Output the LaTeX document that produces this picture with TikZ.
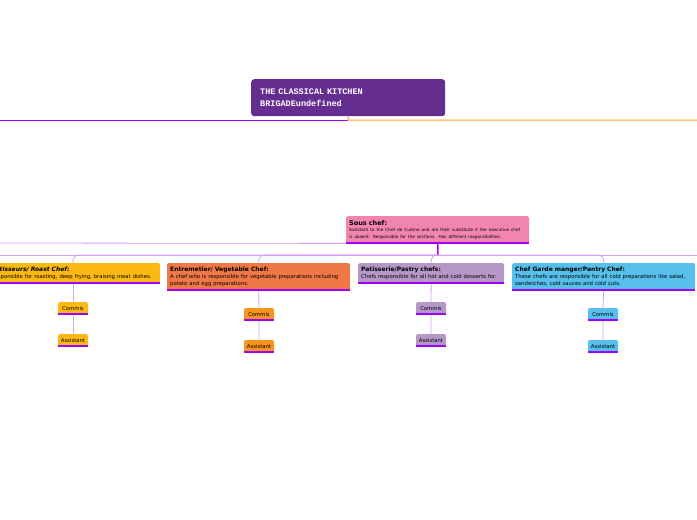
\documentclass[tikz,border=0pt]{standalone}
\usepackage{fontspec}
\setmainfont{DejaVu Sans}
\newfontfamily\monob{Liberation Mono}
\definecolor{ttl}{HTML}{662D91}
\definecolor{ul}{HTML}{A100FF}
\definecolor{lc}{HTML}{D6A0F5}
\definecolor{orl}{HTML}{F9A51A}
\definecolor{pinkc}{HTML}{F185B0}
\definecolor{yel}{HTML}{FDB913}
\definecolor{ora}{HTML}{F07846}
\definecolor{lil}{HTML}{B597C8}
\definecolor{sky}{HTML}{56BFEB}
\definecolor{orb}{HTML}{F7941D}
\begin{document}
\begin{tikzpicture}[x=1pt,y=-1pt,
 box/.style={anchor=north west,rounded corners=1.5pt,inner xsep=3pt,inner ysep=2pt,align=left,font=\fontsize{6}{7}\selectfont},
 small/.style={anchor=north,rounded corners=1.5pt,inner xsep=2pt,inner ysep=0pt,minimum height=12pt,minimum width=30pt,font=\fontsize{5.3}{6}\selectfont},
 conn/.style={draw=lc,line width=0.8pt},
 ulst/.style={draw=ul,line width=2pt}]
\useasboundingbox (0,0) rectangle (697,520);
\newcommand\dsc[1]{\\[0.5pt]{\fontsize{5.3}{6.5}\selectfont\mdseries #1}}
\node[box,fill=ttl,text=white,minimum width=194pt,minimum height=37pt,inner xsep=9pt,rounded corners=3pt,text width=176pt,font=\monob\bfseries\fontsize{8.5}{12}\selectfont] (title) at (251,79) {THE CLASSICAL KITCHEN\\BRIGADEundefined};
\coordinate (tl) at (0,120);
\coordinate (tr) at (697,120);
\coordinate (tj) at (348,120);
\draw[ul,line width=1pt] (tl) -- (tj);
\draw[orl,line width=1pt] (title.south) -- (tj) -- (tr);

\node[box,fill=pinkc,minimum width=183pt,minimum height=27pt,text width=177pt] (sous) at (346,216) {{\bfseries\fontsize{6.5}{8}\selectfont Sous chef:}\\[0.5pt]{\fontsize{4.2}{5.5}\selectfont Assistant to the Chef de Cuisine and are their substitute if the executive chef\\is absent. Responsible for the sections. Has different responsibilities.}};
\node[box,fill=yel,minimum width=172pt,minimum height=20pt,text width=166pt] (roast) at (-12,263) {{\bfseries\itshape Rotisseurs/ Roast Chef:}\dsc{Responsible for roasting, deep frying, braising meat dishes.}};
\node[box,fill=ora,minimum width=183pt,minimum height=27pt,text width=177pt] (entre) at (167,263) {{\bfseries Entremetier/ Vegetable Chef:}\dsc{A chef who is responsible for vegetable preparations including\\potato and egg preparations.}};
\node[box,fill=lil,minimum width=146pt,minimum height=20pt,text width=140pt] (pat) at (358,263) {{\bfseries Patisserie/Pastry chefs:}\dsc{Chefs responsible for all hot and cold desserts for.}};
\node[box,fill=sky,minimum width=183pt,minimum height=27pt,text width=177pt] (garde) at (512,263) {{\bfseries Chef Garde manger/Pantry Chef:}\dsc{These chefs are responsible for all cold preparations like salad,\\sandwiches, cold sauces and cold cuts.}};

\node[small,fill=yel] (rc) at (73,302) {Commis};
\node[small,fill=yel] (ra) at (73,334) {Assistant};
\node[small,fill=orb] (ec) at (259,308) {Commis};
\node[small,fill=orb] (ea) at (259,340) {Assistant};
\node[small,fill=lil] (pc) at (431,302) {Commis};
\node[small,fill=lil] (pa) at (431,334) {Assistant};
\node[small,fill=sky] (gc) at (603,308) {Commis};
\node[small,fill=sky] (ga) at (603,340) {Assistant};

\coordinate (sl) at (0,243);
\coordinate (hl) at (0,255);
\coordinate (hr) at (697,255);
\coordinate (hub) at (438,255);
\coordinate (rtop) at (73,263);
\draw[conn] (sl) -- (sous.south west);
\draw[conn] (hl) -- (hr);
\draw[ul,line width=1.5pt] (sous.south) -- (hub);
\foreach \c in {entre,pat,garde}{
 \draw[conn,rounded corners=6pt] (hub) -| (\c.north);
}
\draw[conn,rounded corners=6pt] (hub) -| (rtop);
\draw[conn] (rtop |- roast.south) -- (rc.north);
\draw[conn] (rc.south) -- (ra.north);
\draw[conn] (entre.south) -- (ec.north) (ec.south) -- (ea.north);
\draw[conn] (pat.south) -- (pc.north) (pc.south) -- (pa.north);
\draw[conn] (garde.south) -- (gc.north) (gc.south) -- (ga.north);
\foreach \n in {sous,roast,entre,pat,garde,rc,ra,ec,ea,pc,pa,gc,ga}{
 \draw[ulst] (\n.south west) -- (\n.south east);
}
\end{tikzpicture}
\end{document}
